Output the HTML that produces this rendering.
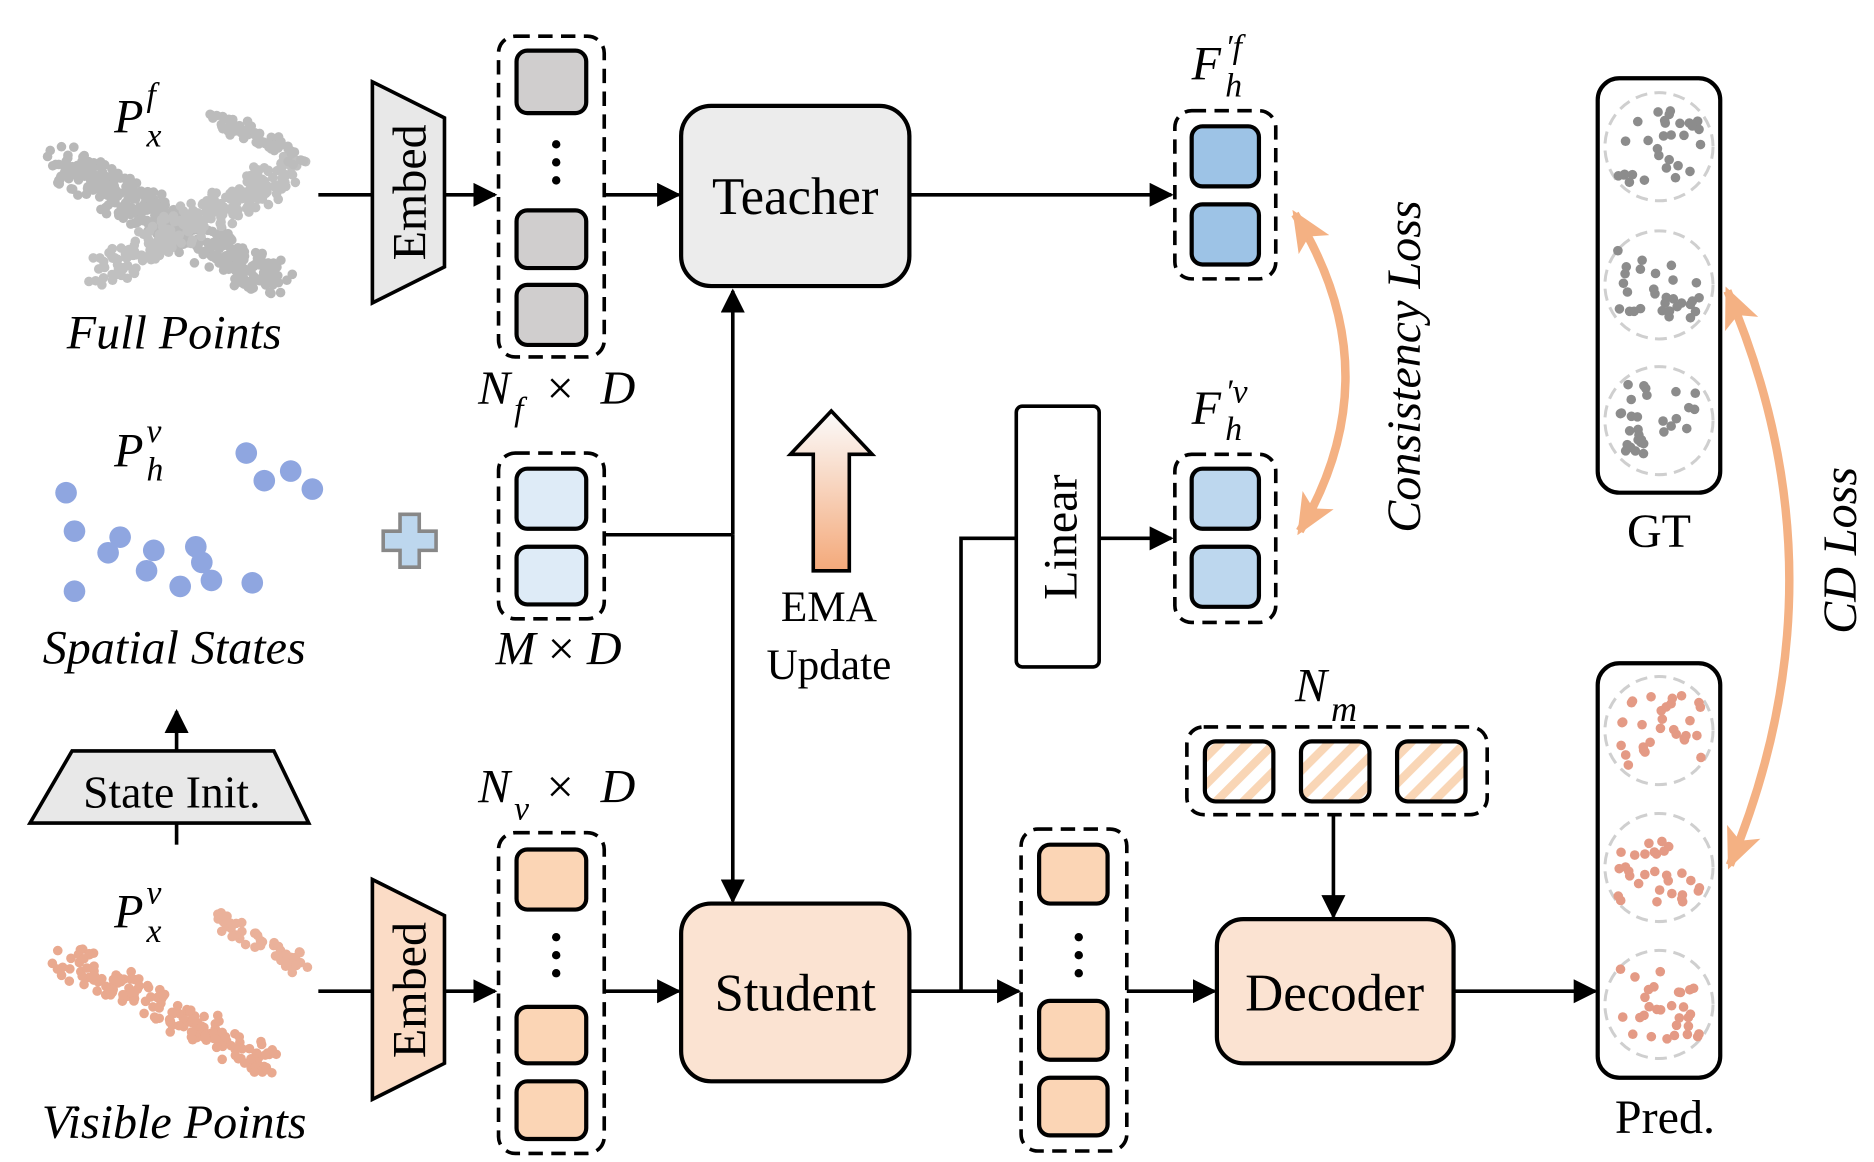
<!DOCTYPE html>
<html><head><meta charset="utf-8"><style>
html,body{margin:0;padding:0;background:#fff}
svg{display:block}
text{font-family:"Liberation Serif","DejaVu Serif",serif;fill:#000}
</style></head><body>
<svg id="s" width="1874" height="1162" viewBox="0 0 1560 967" xmlns="http://www.w3.org/2000/svg">
<defs>
<marker id="ah2" markerWidth="20" markerHeight="20" refX="18" refY="10" orient="auto" markerUnits="userSpaceOnUse" viewBox="0 0 20 20"><path d="M0,0 L20,10 L0,20 z" fill="#000"/></marker>
<marker id="oa" markerWidth="34" markerHeight="34" refX="30" refY="17" orient="auto-start-reverse" markerUnits="userSpaceOnUse" viewBox="0 0 34 34"><path d="M0,2 L34,17 L0,32 L8,17 z" fill="#f4b183"/></marker>
<linearGradient id="ema" x1="0" y1="0" x2="0" y2="1"><stop offset="0" stop-color="#fbfbfb"/><stop offset="1" stop-color="#f4a97a"/></linearGradient>
<pattern id="hatch" width="16" height="16" patternUnits="userSpaceOnUse" patternTransform="rotate(-45)"><rect width="16" height="16" fill="#fff"/><rect width="16" height="7" fill="#f9d6b6"/></pattern>
</defs>
<g id="clouds"></g>

<text x="95" y="110" font-size="40" font-style="italic">P</text><text x="122" y="88" font-size="28" font-style="italic">f</text><text x="122" y="122" font-size="28" font-style="italic">x</text>
<text x="145" y="290" font-size="40" font-style="italic" text-anchor="middle">Full Points</text>
<text x="95" y="388" font-size="40" font-style="italic">P</text><text x="122" y="368" font-size="28" font-style="italic">v</text><text x="122" y="400" font-size="28" font-style="italic">h</text>
<text x="145" y="552" font-size="40" font-style="italic" text-anchor="middle">Spatial States</text>
<text x="95" y="772" font-size="40" font-style="italic">P</text><text x="122" y="752" font-size="28" font-style="italic">v</text><text x="122" y="784" font-size="28" font-style="italic">x</text>
<text x="145" y="947" font-size="40" font-style="italic" text-anchor="middle">Visible Points</text>

<line x1="147" y1="685" x2="147" y2="703" stroke="#000" stroke-width="3"/>
<line x1="147" y1="625" x2="147" y2="592" stroke="#000" stroke-width="3" marker-end="url(#ah2)"/>
<path d="M60,625 L228,625 L257,685 L25,685 z" fill="#e8e8e8" stroke="#000" stroke-width="3"/>
<text x="143" y="672" font-size="38" text-anchor="middle">State Init.</text>

<path d="M333,428 h16 v14 h14 v16 h-14 v14 h-16 v-14 h-14 v-16 h14 z" fill="#bdd7ee" stroke="#888" stroke-width="3"/>

<path d="M310,68 L370,98 L370,222 L310,252 z" fill="#e8e8e8" stroke="#000" stroke-width="3"/>
<text transform="translate(354,160) rotate(-90)" font-size="40" text-anchor="middle">Embed</text>
<path d="M310,732 L370,762 L370,885 L310,915 z" fill="#fbdcc6" stroke="#000" stroke-width="3"/>
<text transform="translate(354,824) rotate(-90)" font-size="40" text-anchor="middle">Embed</text>

<g stroke="#000" stroke-width="3" fill="none">
<line x1="265" y1="162" x2="310" y2="162"/>
<line x1="370" y1="162" x2="412" y2="162" marker-end="url(#ah2)"/>
<line x1="503" y1="162" x2="565" y2="162" marker-end="url(#ah2)"/>
<line x1="757" y1="162" x2="975" y2="162" marker-end="url(#ah2)"/>
<line x1="265" y1="825" x2="310" y2="825"/>
<line x1="370" y1="825" x2="412" y2="825" marker-end="url(#ah2)"/>
<line x1="503" y1="825" x2="565" y2="825" marker-end="url(#ah2)"/>
<line x1="757" y1="825" x2="848" y2="825" marker-end="url(#ah2)"/>
<polyline points="800,825 800,448 846,448"/>
<line x1="915" y1="448" x2="975" y2="448" marker-end="url(#ah2)"/>
<line x1="503" y1="445" x2="610" y2="445"/>
<line x1="610" y1="445" x2="610" y2="242" marker-end="url(#ah2)"/>
<line x1="610" y1="445" x2="610" y2="750" marker-end="url(#ah2)"/>
<line x1="938" y1="825" x2="1011" y2="825" marker-end="url(#ah2)"/>
<line x1="1110" y1="678" x2="1110" y2="763" marker-end="url(#ah2)"/>
<line x1="1210" y1="825" x2="1328" y2="825" marker-end="url(#ah2)"/>
</g>

<g fill="none" stroke="#000" stroke-width="3" stroke-dasharray="12,7">
<rect x="415" y="30" width="88" height="267" rx="14"/>
<rect x="415" y="377" width="88" height="138" rx="14"/>
<rect x="415" y="693" width="88" height="267" rx="14"/>
<rect x="850" y="690" width="88" height="268" rx="14"/>
<rect x="978" y="92" width="84" height="140" rx="14"/>
<rect x="978" y="378" width="84" height="140" rx="14"/>
<rect x="988" y="605" width="250" height="73" rx="14"/>
</g>
<g stroke="#000" stroke-width="3.5">
<rect x="430" y="42" width="58" height="52" rx="9" fill="#d0cece"/>
<rect x="430" y="175" width="58" height="48" rx="9" fill="#d0cece"/>
<rect x="430" y="237" width="58" height="50" rx="9" fill="#d0cece"/>
<rect x="430" y="390" width="58" height="50" rx="9" fill="#deebf7"/>
<rect x="430" y="455" width="58" height="48" rx="9" fill="#deebf7"/>
<rect x="430" y="707" width="58" height="50" rx="9" fill="#fbd5b5"/>
<rect x="430" y="838" width="58" height="47" rx="9" fill="#fbd5b5"/>
<rect x="430" y="900" width="58" height="48" rx="9" fill="#fbd5b5"/>
<rect x="865" y="703" width="57" height="49" rx="9" fill="#fbd5b5"/>
<rect x="865" y="833" width="57" height="49" rx="9" fill="#fbd5b5"/>
<rect x="865" y="897" width="57" height="48" rx="9" fill="#fbd5b5"/>
<rect x="992" y="105" width="56" height="50" rx="9" fill="#9dc3e6"/>
<rect x="992" y="170" width="56" height="50" rx="9" fill="#9dc3e6"/>
<rect x="992" y="390" width="56" height="50" rx="9" fill="#bdd7ee"/>
<rect x="992" y="455" width="56" height="50" rx="9" fill="#bdd7ee"/>
<rect x="1003" y="617" width="57" height="50" rx="9" fill="url(#hatch)"/>
<rect x="1083" y="617" width="57" height="50" rx="9" fill="url(#hatch)"/>
<rect x="1163" y="617" width="57" height="50" rx="9" fill="url(#hatch)"/>
</g>
<g fill="#000"><circle cx="463" cy="120" r="3.5"/><circle cx="463" cy="135" r="3.5"/><circle cx="463" cy="150" r="3.5"/>
<circle cx="463" cy="780" r="3.5"/><circle cx="463" cy="795" r="3.5"/><circle cx="463" cy="810" r="3.5"/>
<circle cx="898" cy="780" r="3.5"/><circle cx="898" cy="795" r="3.5"/><circle cx="898" cy="810" r="3.5"/></g>

<text x="398" y="336" font-size="40" font-style="italic">N</text><text x="428" y="350" font-size="28" font-style="italic">f</text><text x="455" y="336" font-size="40">×</text><text x="500" y="336" font-size="40" font-style="italic">D</text>
<text x="465" y="553" font-size="40" font-style="italic" text-anchor="middle">M <tspan font-style="normal">×</tspan> D</text>
<text x="398" y="668" font-size="40" font-style="italic">N</text><text x="428" y="682" font-size="28" font-style="italic">v</text><text x="455" y="668" font-size="40">×</text><text x="500" y="668" font-size="40" font-style="italic">D</text>

<rect x="567" y="88" width="190" height="150" rx="25" fill="#ececec" stroke="#000" stroke-width="3.5"/>
<text x="662" y="178" font-size="44" text-anchor="middle">Teacher</text>
<rect x="567" y="752" width="190" height="148" rx="25" fill="#fbe3d2" stroke="#000" stroke-width="3.5"/>
<text x="662" y="841" font-size="44" text-anchor="middle">Student</text>
<rect x="1013" y="765" width="197" height="120" rx="22" fill="#fbe3d2" stroke="#000" stroke-width="3.5"/>
<text x="1111" y="841" font-size="44" text-anchor="middle">Decoder</text>
<rect x="846" y="338" width="69" height="217" rx="5" fill="#fff" stroke="#000" stroke-width="3"/>
<text transform="translate(896,447) rotate(-90)" font-size="40" text-anchor="middle">Linear</text>

<path d="M692,342 L726,378 L707,378 L707,475 L677,475 L677,378 L658,378 z" fill="url(#ema)" stroke="#000" stroke-width="3"/>
<text x="690" y="517" font-size="36" text-anchor="middle">EMA</text>
<text x="690" y="565" font-size="36" text-anchor="middle">Update</text>

<text x="992" y="66" font-size="40" font-style="italic">F</text><text x="1020" y="48" font-size="28" font-style="italic">′f</text><text x="1020" y="80" font-size="28" font-style="italic">h</text>
<text x="992" y="353" font-size="40" font-style="italic">F</text><text x="1020" y="335" font-size="28" font-style="italic">′v</text><text x="1020" y="366" font-size="28" font-style="italic">h</text>
<text x="1078" y="584" font-size="40" font-style="italic">N</text><text x="1108" y="600" font-size="30" font-style="italic">m</text>

<path d="M1078,178 Q1160,310 1082,442" fill="none" stroke="#f4b183" stroke-width="7" marker-start="url(#oa)" marker-end="url(#oa)"/>
<text transform="translate(1182,305) rotate(-90)" font-size="40" font-style="italic" text-anchor="middle">Consistency Loss</text>
<path d="M1438,242 Q1540,480 1440,720" fill="none" stroke="#f4b183" stroke-width="7" marker-start="url(#oa)" marker-end="url(#oa)"/>
<text transform="translate(1545,458) rotate(-90)" font-size="40" font-style="italic" text-anchor="middle">CD Loss</text>

<rect x="1330" y="65" width="102" height="345" rx="18" fill="#fff" stroke="#000" stroke-width="3.5"/>
<rect x="1330" y="552" width="102" height="345" rx="18" fill="#fff" stroke="#000" stroke-width="3.5"/>
<g fill="none" stroke="#cfcfcf" stroke-width="2.5" stroke-dasharray="10,6">
<circle cx="1381" cy="122" r="45"/><circle cx="1381" cy="237" r="45"/><circle cx="1381" cy="350" r="45"/>
<circle cx="1381" cy="608" r="45"/><circle cx="1381" cy="722" r="45"/><circle cx="1381" cy="836" r="45"/>
</g>
<g id="inner"></g>
<text x="1381" y="455" font-size="40" text-anchor="middle">GT</text>
<text x="1386" y="943" font-size="40" text-anchor="middle">Pred.</text>
</svg>
<script>
var s=12345;function r(){s=(s*16807)%2147483647;return s/2147483647;}
var g=document.getElementById('clouds'),ns='http://www.w3.org/2000/svg';
function c(par,x,y,rad,f){var e=document.createElementNS(ns,'circle');e.setAttribute('cx',x);e.setAttribute('cy',y);e.setAttribute('r',rad);e.setAttribute('fill',f);par.appendChild(e);}
function seg(par,x1,y1,x2,y2,w,n,rad,f){for(var i=0;i<n;i++){var t=r();var x=x1+(x2-x1)*t+(r()-0.5)*w,y=y1+(y2-y1)*t+(r()-0.5)*w;c(par,x,y,rad,f);}}
seg(g,50,135,230,235,30,380,4,'#b8b8b8');
seg(g,85,225,245,140,26,260,4,'#c0c0c0');
seg(g,180,98,250,130,14,60,4,'#bcbcbc');
seg(g,50,795,225,885,25,170,4,'#e9a98f');
seg(g,180,765,255,805,14,50,4,'#eab19a');
var bl=[[205,377],[242,392],[260,407],[220,400],[55,410],[62,442],[100,447],[90,460],[128,458],[163,455],[168,468],[122,475],[150,488],[176,483],[210,485],[62,492]];
bl.forEach(function(p){c(g,p[0],p[1],9,'#8fa6e0');});
var inn=document.getElementById('inner');
[122,237,350].forEach(function(cy){for(var i=0;i<30;i++)c(inn,1381+(r()-0.5)*70,cy+(r()-0.5)*60,4,'#8c8c8c');});
[608,722,836].forEach(function(cy){for(var i=0;i<30;i++)c(inn,1381+(r()-0.5)*70,cy+(r()-0.5)*60,4,'#e49a85');});
</script>
</body></html>
